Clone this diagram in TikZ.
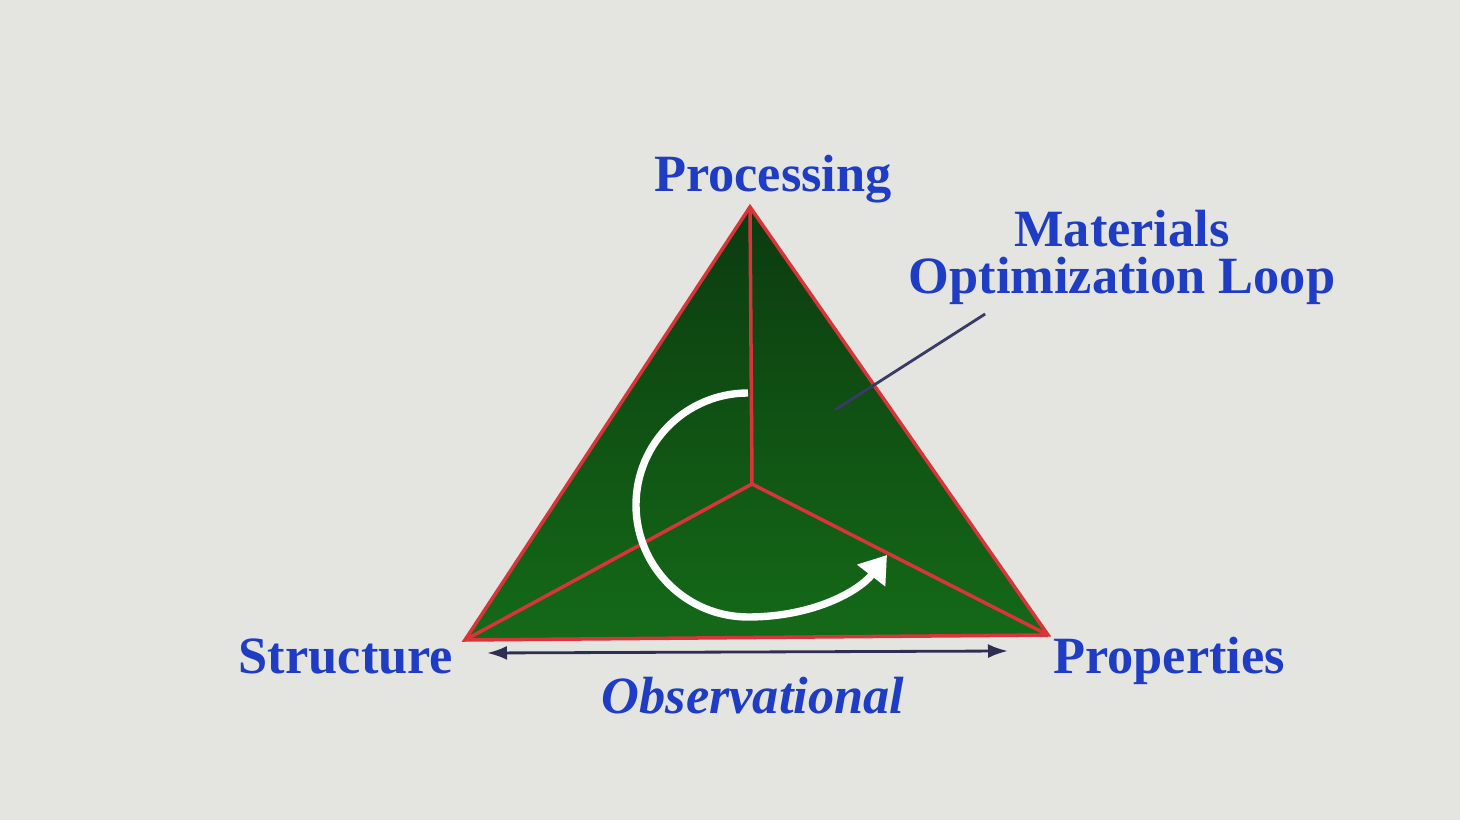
\documentclass[tikz,border=0pt]{standalone}
\usepackage{fontspec}
\setmainfont{Liberation Serif}
\usetikzlibrary{arrows.meta, positioning, calc}
\definecolor{bgpaper}{HTML}{E4E4E0}
\definecolor{labelblue}{HTML}{1E3CC4}
\definecolor{edgered}{HTML}{D8343A}
\definecolor{darkgreen}{HTML}{0C3A10}
\definecolor{midgreen}{HTML}{146A18}
\definecolor{leadernavy}{HTML}{3A3A66}
\tikzset{
  vlabel/.style={
    text=labelblue, font=\fontsize{14.9}{13.4}\selectfont\bfseries, anchor=base, inner sep=0pt
  },
  spoke/.style={draw=edgered, line width=1pt},
  loopedge/.style={-{Triangle[length=2.6mm, width=3.4mm]}, draw=white, line width=2.1pt},
  leader/.style={draw=leadernavy, line width=0.8pt}
}

\begin{document}
\begin{tikzpicture}[
    obslabel/.style={vlabel, font=\fontsize{14.9}{17}\selectfont\bfseries\itshape},
    axis/.style={{Latex[length=2mm, width=1.4mm]}-{Latex[length=2mm, width=1.4mm]}, draw=leadernavy!80!black, line width=0.8pt}
    ]
    % page and background
    \fill[bgpaper] (0,0) rectangle (14.6,8.2);
    \useasboundingbox (0,0) rectangle (14.6,8.2);
    % corners of the triangle
    \coordinate (proc) at (7.50,6.13);
    \coordinate (struc) at (4.65,1.80);
    \coordinate (prop) at (10.48,1.85);
    \coordinate (mid) at (7.52,3.36);
    \shade[top color=darkgreen, bottom color=midgreen] (proc) -- (struc) -- (prop) -- cycle;
    \draw[spoke] (proc) -- (struc) -- (prop) -- cycle;
    \foreach \c in {proc, struc, prop}
      \draw[spoke] (mid) -- (\c);
    % optimization loop
    \coordinate (loopstart) at (7.48,4.27);
    \coordinate (loopend) at (8.87,2.65);
    \draw[loopedge] (loopstart) arc[start angle=90, end angle=270, radius=1.12]
      .. controls (8.15,2.03) and (8.60,2.30) .. (loopend);
    % labels
    \node[vlabel] (processing) at (7.73,6.28) {Processing};
    \node[vlabel, align=center, anchor=center] (loop) at (11.22,5.63) {Materials\\Optimization Loop};
    \node[vlabel] (structure) at (3.46,1.46) {Structure};
    \node[vlabel] (properties) at (11.69,1.46) {Properties};
    \node[obslabel] (observ) at (7.53,1.06) {Observational};
    \coordinate (leadertip) at (8.35,4.10);
    \draw[leader] ($(loop.south west)!0.18!(loop.south east)+(0,-0.09)$) -- (leadertip);
    \coordinate (axisleft) at (4.87,1.67);
    \coordinate (axisright) at (10.08,1.69);
    \draw[axis] (axisleft) -- (axisright);
\end{tikzpicture}
\end{document}
